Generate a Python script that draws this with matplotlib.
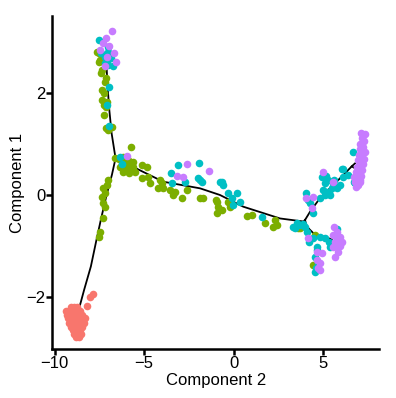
import matplotlib.pyplot as plt
import numpy as np

plt.rcParams['font.family'] = ['Liberation Sans', 'DejaVu Sans']

# cell states, ggplot default hues
state_colors = ['#F8766D', '#7CAE00', '#00BFC4', '#C77CFF']

# state 1 (red) - root cluster, bottom left
red_x = [-8.03, -7.88, -8.19,
         -9.1, -8.9, -8.75,
         -9.35, -9.2, -9.0, -8.8, -8.6,
         -9.3, -9.1, -8.95, -8.7, -8.5,
         -9.25, -9.05, -8.85, -8.65, -8.45, -8.3,
         -9.2, -9.0, -8.8, -8.6, -8.35,
         -9.1, -8.9, -8.7, -8.45,
         -9.0, -8.8, -8.6,
         -8.9, -8.7, -8.55,
         -8.8, -8.65]
red_y = [-1.99, -1.95, -2.18,
         -2.2, -2.2, -2.2,
         -2.28, -2.28, -2.28, -2.28, -2.28,
         -2.35, -2.35, -2.35, -2.35, -2.35,
         -2.42, -2.42, -2.42, -2.42, -2.42, -2.42,
         -2.5, -2.5, -2.5, -2.5, -2.5,
         -2.58, -2.58, -2.58, -2.58,
         -2.65, -2.65, -2.65,
         -2.72, -2.72, -2.72,
         -2.78, -2.78]

# state 2 (green)
green_x = [-7.66, -7.51, -7.47, -7.52, -7.38, -7.44, -7.13, -7.19, -7.38, -7.25,
           -7.38, -7.10, -7.25, -7.13, -7.22, -7.13, -6.82, -7.01,
           -5.75, -6.63, -6.17, -5.89, -5.61, -6.35, -5.98, -5.70, -6.17, -5.51,
           -5.83, -5.14, -4.86, -5.14, -4.77, -4.67, -4.11, -4.02, -4.21, -3.93,
           -3.55, -3.27, -3.37, -2.62, -2.90, -1.87, -0.94, -0.94,
           -6.0, -6.25, -5.8, -6.1, -5.9, -6.4, -5.6,
           -7.01, -7.10, -7.29, -7.19, -7.38, -7.29, -7.19, -7.32, -7.47, -7.51,
           -1.72, -0.98, -0.85, -0.66, -0.29, -0.20, 0.74, 1.02, 1.76, 2.32,
           2.45, 2.23, 3.72, 3.63, 4.47, 4.56]
green_y = [2.81, 2.78, 2.65, 2.61, 2.45, 2.39, 2.29, 2.22, 2.06, 2.0,
           1.86, 1.83, 1.76, 1.72, 1.57, 1.31, 1.34, 1.27,
           0.94, 0.72, 0.75, 0.69, 0.65, 0.55, 0.55, 0.52, 0.46, 0.46,
           0.43, 0.59, 0.55, 0.33, 0.36, 0.23, 0.29, 0.23, 0.13, 0.13,
           0.10, 0.06, 0.0, 0.10, -0.06, -0.06, -0.13, -0.36,
           0.62, 0.65, 0.6, 0.5, 0.48, 0.7, 0.55,
           0.29, 0.20, 0.13, 0.03, -0.03, -0.16, -0.23, -0.46, -0.72, -0.82,
           -0.06, -0.10, -0.23, -0.29, -0.13, -0.23, -0.41, -0.39, -0.55, -0.49,
           -0.59, -0.62, -0.65, -0.65, -1.37, -0.78]

# state 3 (cyan)
cyan_x = [-7.51, -7.43, -7.01, -6.87, -7.10, -6.76, -7.19, -7.01, -6.95, -7.10,
          -6.95, -7.2, -6.9, -7.05,
          -3.09, -3.51, -3.46, -2.71, -1.91, -1.97, -1.78, -0.76, -6.35, -6.26,
          -0.66, -0.57, -0.29, 0.18, -0.10, 0.36, -0.01, 1.58, -1.87,
          3.35, 3.54, 3.72, 3.91, 4.0, 3.44,
          4.06, 4.19, 4.28, 4.47, 4.84, 5.03, 5.12, 5.30, 5.22, 5.50,
          5.58, 5.78, 5.96, 5.40, 5.18, 4.94, 6.14, 6.11, 6.42, 6.70,
          6.74, 5.35, 5.6, 5.1, 6.80, 6.05,
          4.10, 4.24, 4.47, 4.66, 4.84, 5.12, 5.36, 5.40, 4.56, 4.75,
          4.56, 5.81, 4.67, 4.62]
cyan_y = [3.04, 2.79, 2.81, 2.68, 2.61, 2.52, 2.59, 2.91, 2.12, 1.76,
          1.35, 2.7, 2.75, 2.55,
          0.59, 0.43, 0.24, 0.26, 0.62, 0.33, 0.26, 0.26, 0.75, 0.61,
          0.26, 0.20, 0.03, 0.03, -0.06, -0.13, -0.20, -0.43, 0.29,
          -0.62, -0.54, -0.59, -0.57, -0.63, -0.65,
          0.03, -0.10, -0.16, -0.36, -0.06, 0.10, 0.23, 0.29, 0.06, 0.13,
          0.23, 0.13, 0.20, 0.0, 0.37, 0.35, 0.36, 0.50, 0.39, 0.85,
          0.26, 0.05, 0.3, 0.0, 0.23, 0.50,
          -0.72, -0.92, -0.85, -1.01, -0.82, -0.85, -0.92, -1.01, -1.21, -1.34,
          -1.50, -0.67, -1.08, -1.43]

# state 4 (purple)
purple_x = [-6.82, -7.13, -7.32, -6.95, -6.69, -7.10, -6.58, -7.19, -7.47,
            -2.59, -3.18, -2.84, -1.35, -5.98,
            5.03, 4.06, 4.47, 4.38, 5.58,
            7.15, 7.35, 7.2, 7.3, 7.1, 7.25, 7.05, 7.2, 7.35, 7.0,
            7.15, 7.3, 6.95, 7.1, 7.25, 6.9, 7.05, 7.2, 6.85, 7.0,
            7.15, 6.9, 7.05, 6.8, 6.95, 6.85, 7.1, 6.75,
            5.78, 5.58, 5.96, 5.68, 6.05, 5.78, 5.86, 5.68, 5.58, 5.96,
            5.8, 5.6,
            4.19, 4.66, 4.94, 4.66, 4.84, 4.75, 4.84]
purple_y = [3.22, 3.07, 2.97, 2.92, 2.78, 2.71, 2.61, 2.52, 2.84,
            0.60, 0.37, 0.35, 0.47, 0.77,
            0.46, -0.06, -0.03, -0.26, 0.26,
            1.22, 1.2, 1.12, 1.05, 1.0, 0.95, 0.9, 0.85, 0.85, 0.78,
            0.75, 0.7, 0.68, 0.62, 0.6, 0.55, 0.5, 0.48, 0.45, 0.4,
            0.38, 0.33, 0.3, 0.25, 0.2, 0.16, 0.25, 0.35,
            -0.72, -0.78, -0.82, -0.92, -0.92, -1.01, -1.11, -1.21, -1.01, -1.0,
            -0.85, -0.62,
            -0.85, -1.11, -1.13, -1.27, -1.34, -1.44, -1.48]

# principal graph branches
tree_branches = [
    ([-8.69, -8.35, -7.98, -7.68, -7.4, -7.1, -6.8, -6.6],
     [-2.29, -1.85, -1.4, -0.9, -0.45, 0.0, 0.4, 0.72]),
    ([-6.6, -6.82, -6.95, -7.06, -7.1],
     [0.72, 1.21, 1.67, 2.19, 2.52]),
    ([-6.6, -5.62, -3.93, -1.87, -0.76, 0.55, 2.6, 3.91, 4.0],
     [0.72, 0.55, 0.26, 0.13, 0.0, -0.23, -0.46, -0.52, -0.49]),
    ([4.0, 4.28, 4.84, 6.14, 6.61, 6.8],
     [-0.49, -0.33, -0.06, 0.39, 0.56, 0.62]),
    ([6.61, 6.93], [0.56, 0.5]),
    ([4.0, 4.1, 4.47, 5.5],
     [-0.49, -0.62, -0.75, -0.87]),
]

fig = plt.figure(figsize=(3.96, 3.98), dpi=100)
ax = fig.add_axes([0.132, 0.123, 0.826, 0.837])

for bx, by in tree_branches:
    ax.plot(bx, by, color='black', lw=1.3, zorder=1)

for xs, ys, c in zip([red_x, green_x, cyan_x, purple_x],
                     [red_y, green_y, cyan_y, purple_y], state_colors):
    ax.scatter(xs, ys, s=30, color=c, linewidths=0, zorder=2)

ax.set_xlim(-10.14, 8.16)
ax.set_ylim(-3.02, 3.51)
ax.set_xticks([-10, -5, 0, 5])
ax.set_yticks([-2, 0, 2])
ax.spines['top'].set_visible(False)
ax.spines['right'].set_visible(False)
for s in ['left', 'bottom']:
    ax.spines[s].set_linewidth(1.8)
ax.tick_params(width=1.8, length=4, pad=1, labelsize=12, colors='black')
ax.set_xlabel('Component 2', fontsize=12)
ax.set_ylabel('Component 1', fontsize=12)
ax.xaxis.set_label_coords(0.5, -0.071)
ax.yaxis.set_label_coords(-0.0835, 0.5)

fig.savefig('out.png', dpi=100)
